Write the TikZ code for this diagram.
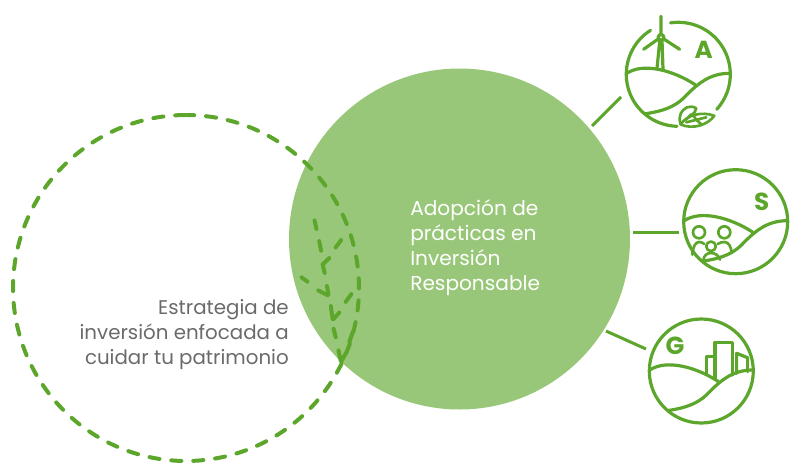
\documentclass[tikz,border=0pt]{standalone}
\usepackage{fontspec}
\setmainfont{Poppins}
\definecolor{leaf}{HTML}{5DA62C}
\definecolor{disc}{HTML}{99C779}
\definecolor{ink}{HTML}{6A6A6A}
\tikzset{
  px/.style={x=0.75pt,y=-0.75pt},
  icon/.style={draw=leaf,line width=2.4pt,line cap=round,line join=round},
  thin icon/.style={draw=leaf,line width=2pt,line cap=round,line join=round},
  dashring/.style={draw=leaf,line width=3pt,line cap=round,dash pattern=on 7.6pt off 8.9pt,dash phase=15.3pt},
  vein/.style={draw=leaf,line width=3pt,line cap=round,shorten <=0.8pt,shorten >=0.8pt},
  link/.style={draw=leaf,line width=2.25pt},
  letter/.style={text=leaf,font=\fontsize{18.5}{18.5}\selectfont\bfseries,inner sep=0pt},
  body/.style={font=\fontsize{15.1}{18.75}\selectfont,inner sep=0pt,align=left,anchor=north west},
  aimtext/.style={font=\fontsize{14.85}{18.75}\selectfont,inner sep=0pt,align=right,anchor=north east,text=ink},
}
% the two rolling hills shared by the three round icons
\newcommand{\hills}{%
  \draw[icon] (-51.5,-1) .. controls (-35,-12) and (-5,-4) .. (17,10.5);
  \draw[icon] (-33,39.5) .. controls (-10,36) and (0,30) .. (9,20)
     .. controls (20,9) and (32,-1) .. (51.5,-1);
}
\begin{document}
\begin{tikzpicture}[px]
\useasboundingbox (0,0) rectangle (804,475);

% main disc and dashed ring
\node[circle,fill=disc,minimum size=255.75pt,inner sep=0pt] (disc) at (459.5,239) {};
\draw[dashring] plot[domain=-89.7:-449.7,samples=181,smooth] ({186+173*cos(\x)},{288+173*sin(\x)});

% veins of the leaf inside the overlap
\foreach \a/\b/\c/\d in {
  314.3/219.3/316.7/230, 319/240/321.3/251.7, 322.3/263.3/325/274,
  326.7/285/328.7/295, 330.7/305/332.7/320, 333.3/327.7/336/338.3, 338.3/349.3/341/362,
  341.7/239.3/335/248.3, 330/257.3/322.3/265,
  300.7/276.7/308.3/282.3, 317.3/290/328.7/295.7,
  352/293.3/345/302.7, 340/311.7/332.7/320, 353.3/330.7/349/342.7, 346.7/351.7/341/362}{
  \draw[vein] (\a,\b) -- (\c,\d);
}

% centre and left captions
\node[body,text=white] (adopt) at (410,199) {Adopción de\\prácticas en\\Inversión\\Responsable};
\node[aimtext] (aim) at (289,299) {Estrategia de\\inversión enfocada a\\cuidar tu patrimonio};

% A: environment
\begin{scope}[shift={(678.3,74.3)}]
  \coordinate (A) at (0,0);
  \draw[icon] plot[domain=-98.6:42.4,samples=60,smooth] ({52*cos(\x)},{52*sin(\x)});
  \draw[icon] plot[domain=91.5:237.7,samples=60,smooth] ({52*cos(\x)},{52*sin(\x)});
  \hills
  \draw[icon] (-21.3,-6) -- (-18.5,-34) (-15.3,-5) -- (-16.3,-34);
  \draw[icon] (-17.3,-37) circle[radius=2.8];
  \draw[icon] (-17.3,-40) -- (-17.3,-58) (-19.8,-35.5) -- (-34.7,-25) (-14.8,-35.5) -- (1.3,-25);
  \node[letter] (la) at (25.3,-24.3) {A};
  % sprig of leaves
  \draw[thin icon] (2,50) .. controls (10,40) and (24,37) .. (36,41.5) .. controls (30,50) and (15,56) .. (2,50);
  \draw[thin icon] (8,48) -- (28,43) (18,45.5) -- (15,41) (18,45.5) -- (23,50);
  \draw[thin icon] (2,49) .. controls (0,41) and (3,36) .. (8.7,33) .. controls (12,32) and (15,32) .. (18,34) .. controls (17,37) and (16,39) .. (13.7,40.7);
  \draw[thin icon] (7,46) -- (13,40);
\end{scope}

% S: social
\begin{scope}[shift={(735.7,221.7)}]
  \coordinate (S) at (0,0);
  \draw[icon] (0,0) circle[radius=52];
  \hills
  \node[letter] (ls) at (26,-20) {S};
  \draw[thin icon] (-36.7,10.6) circle[radius=6];
  \draw[thin icon] (-11.4,10.6) circle[radius=6];
  \draw[thin icon] (-24.7,24.6) circle[radius=4.8];
  \draw[thin icon] (-43.4,33) .. controls (-43,25) and (-40,20.3) .. (-36.7,20.3) .. controls (-34.5,20.3) and (-33,21) .. (-31.4,22.3);
  \draw[thin icon] (-18,22.3) .. controls (-16,21) and (-14,20.3) .. (-11.4,20.3) .. controls (-7,20.3) and (-4.5,25) .. (-4,31.3);
  \draw[thin icon] (-32.4,39) .. controls (-32,34) and (-29,31.3) .. (-24.7,31.3) .. controls (-20,31.3) and (-17,34) .. (-15.7,38);
\end{scope}

% G: governance
\begin{scope}[shift={(701.3,371)}]
  \coordinate (G) at (0,0);
  \draw[icon] (0,0) circle[radius=52];
  \hills
  \node[letter] (lg) at (-26.3,-25) {G};
  \draw[icon] (5.3,2.3) -- (5.3,-14.3) -- (13,-14.3);
  \draw[icon] (13.7,7.3) -- (13.7,-28.7) -- (31,-28.7) -- (31,4);
  \draw[icon] (35.3,2.3) -- (35.3,-17.7) -- (46.3,-13.3) -- (46.3,0.7);
\end{scope}

% connectors from the disc towards each icon
\coordinate (ax) at (592,126); \coordinate (ay) at (621,97);
\coordinate (sx) at (633,232); \coordinate (sy) at (679,232);
\coordinate (gx) at (606,331); \coordinate (gy) at (646,349);
\draw[link] (ax) -- (ay);
\draw[link] (sx) -- (sy);
\draw[link] (gx) -- (gy);
\end{tikzpicture}
\end{document}
